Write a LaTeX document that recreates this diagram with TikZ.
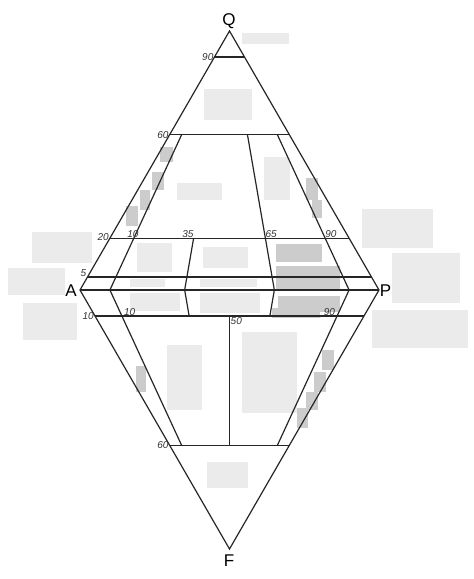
\documentclass[tikz,border=0pt]{standalone}
\usepackage{fontspec}
\setmainfont{Liberation Sans}
\usetikzlibrary{calc}

\tikzset{
  edge/.style={line width=1.2pt, draw=black!85},
  corner/.style={font=\fontsize{17}{17}\selectfont, inner sep=0pt},
  tick/.style={font=\itshape\fontsize{10}{10}\selectfont, inner sep=1pt, text=black!80},
  blank/.style={fill=black!8, draw=none},
  darkblank/.style={fill=black!20, draw=none}
}

\begin{document}
\begin{tikzpicture}[x=1pt,y=-1pt]
\useasboundingbox (0,0) rectangle (474,579);

% corners of the double triangle
\coordinate (Q) at (229.5,31);
\coordinate (A) at (80,290);
\coordinate (P) at (379,290);
\coordinate (F) at (229.5,549);

% points on the A-P line
\foreach \r/\n in {0.1/a10,0.35/a35,0.5/a50,0.65/a65,0.9/a90}
  \coordinate (\n) at ($(A)!\r!(P)$);

% blanked labels
\foreach \xa/\ya/\xb/\yb in {242/33/289/44, 204/89/252/120, 177/183/222/200,
  32/232/92/263, 8/268/65/295, 23/303/77/340, 362/209/433/248, 392/253/460/303,
  372/310/468/348, 137/243/172/272, 203/247/248/268, 130/279/165/287,
  200/279/257/287, 130/293/180/311, 200/293/260/313, 167/345/202/410,
  242/332/297/413, 207/462/248/488, 264/157/290/200}
  \fill[blank] (\xa,\ya) rectangle (\xb,\yb);
\foreach \xa/\ya/\xb/\yb in {160/147/173/162, 152/172/164/190, 140/190/150/210,
  126/206/138/226, 306/178/318/200, 312/200/322/218, 276/244/322/262,
  276/266/340/290, 278/296/340/312, 272/308/320/318, 136/366/146/392,
  322/350/334/370, 314/372/326/392, 306/392/318/410, 297/408/308/428}
  \fill[darkblank] (\xa,\ya) rectangle (\xb,\yb);

% outline
\draw[edge] (Q) -- (A) -- (F) -- (P) -- cycle;

% horizontal lines
\draw[edge] ($(Q)!0.1!(A)$) -- ($(Q)!0.1!(P)$);
\draw[edge] ($(Q)!0.4!(A)$) -- ($(Q)!0.4!(P)$);
\draw[edge] ($(Q)!0.8!(A)$) -- ($(Q)!0.8!(P)$);
\draw[edge] ($(Q)!0.95!(A)$) -- ($(Q)!0.95!(P)$);
\draw[edge] (A) -- (P);
\draw[edge] ($(F)!0.9!(A)$) -- ($(F)!0.9!(P)$);
\draw[edge] ($(F)!0.4!(A)$) -- ($(F)!0.4!(P)$);

% ratio lines
\draw[edge] ($(a10)!0.6!(Q)$) -- (a10) -- ($(a10)!0.6!(F)$);
\draw[edge] ($(a90)!0.6!(Q)$) -- (a90) -- ($(a90)!0.6!(F)$);
\draw[edge] ($(a35)!0.2!(Q)$) -- (a35) -- ($(a35)!0.1!(F)$);
\draw[edge] ($(a65)!0.6!(Q)$) -- ($(a65)!0.2!(Q)$) -- (a65) -- ($(a65)!0.1!(F)$);
\draw[edge] ($(a50)!0.1!(F)$) -- ($(a50)!0.6!(F)$);

% corner labels
\node[corner] (q) at (229,21.5) {Q};
\node[corner] (a) at (71,291) {A};
\node[corner] (p) at (385.5,290.5) {P};
\node[corner] (f) at (229,561) {F};

% tick labels
\node[tick, anchor=east] (t90) at ($(Q)!0.1!(A)$) {90};
\node[tick, anchor=east] (t60) at ($(Q)!0.4!(A)$) {60};
\node[tick, anchor=east] (t20) at ($(Q)!0.8!(A)+(0,-1)$) {20};
\node[tick, anchor=south east] (t5) at ($(Q)!0.95!(A)+(0,1)$) {5};
\node[tick, anchor=south] (r10) at ($(a10)!0.2!(Q)+(-1,1)$) {10};
\node[tick, anchor=south east] (r35) at ($(a35)!0.2!(Q)+(1,1)$) {35};
\node[tick, anchor=south west] (r65) at ($(a65)!0.2!(Q)+(-1,1)$) {65};
\node[tick, anchor=south west] (r90) at ($(a90)!0.2!(Q)+(-1,1)$) {90};
\node[tick, anchor=east] (b10) at ($(F)!0.9!(A)$) {10};
\node[tick, anchor=south west] (s10) at ($(a10)!0.1!(F)+(1,1)$) {10};
\node[tick, anchor=south east] (s90) at ($(a90)!0.1!(F)+(-1,1)$) {90};
\node[tick, anchor=north west] (s50) at ($(a50)!0.1!(F)$) {50};
\node[tick, anchor=east] (b60) at ($(F)!0.4!(A)$) {60};
\end{tikzpicture}
\end{document}
